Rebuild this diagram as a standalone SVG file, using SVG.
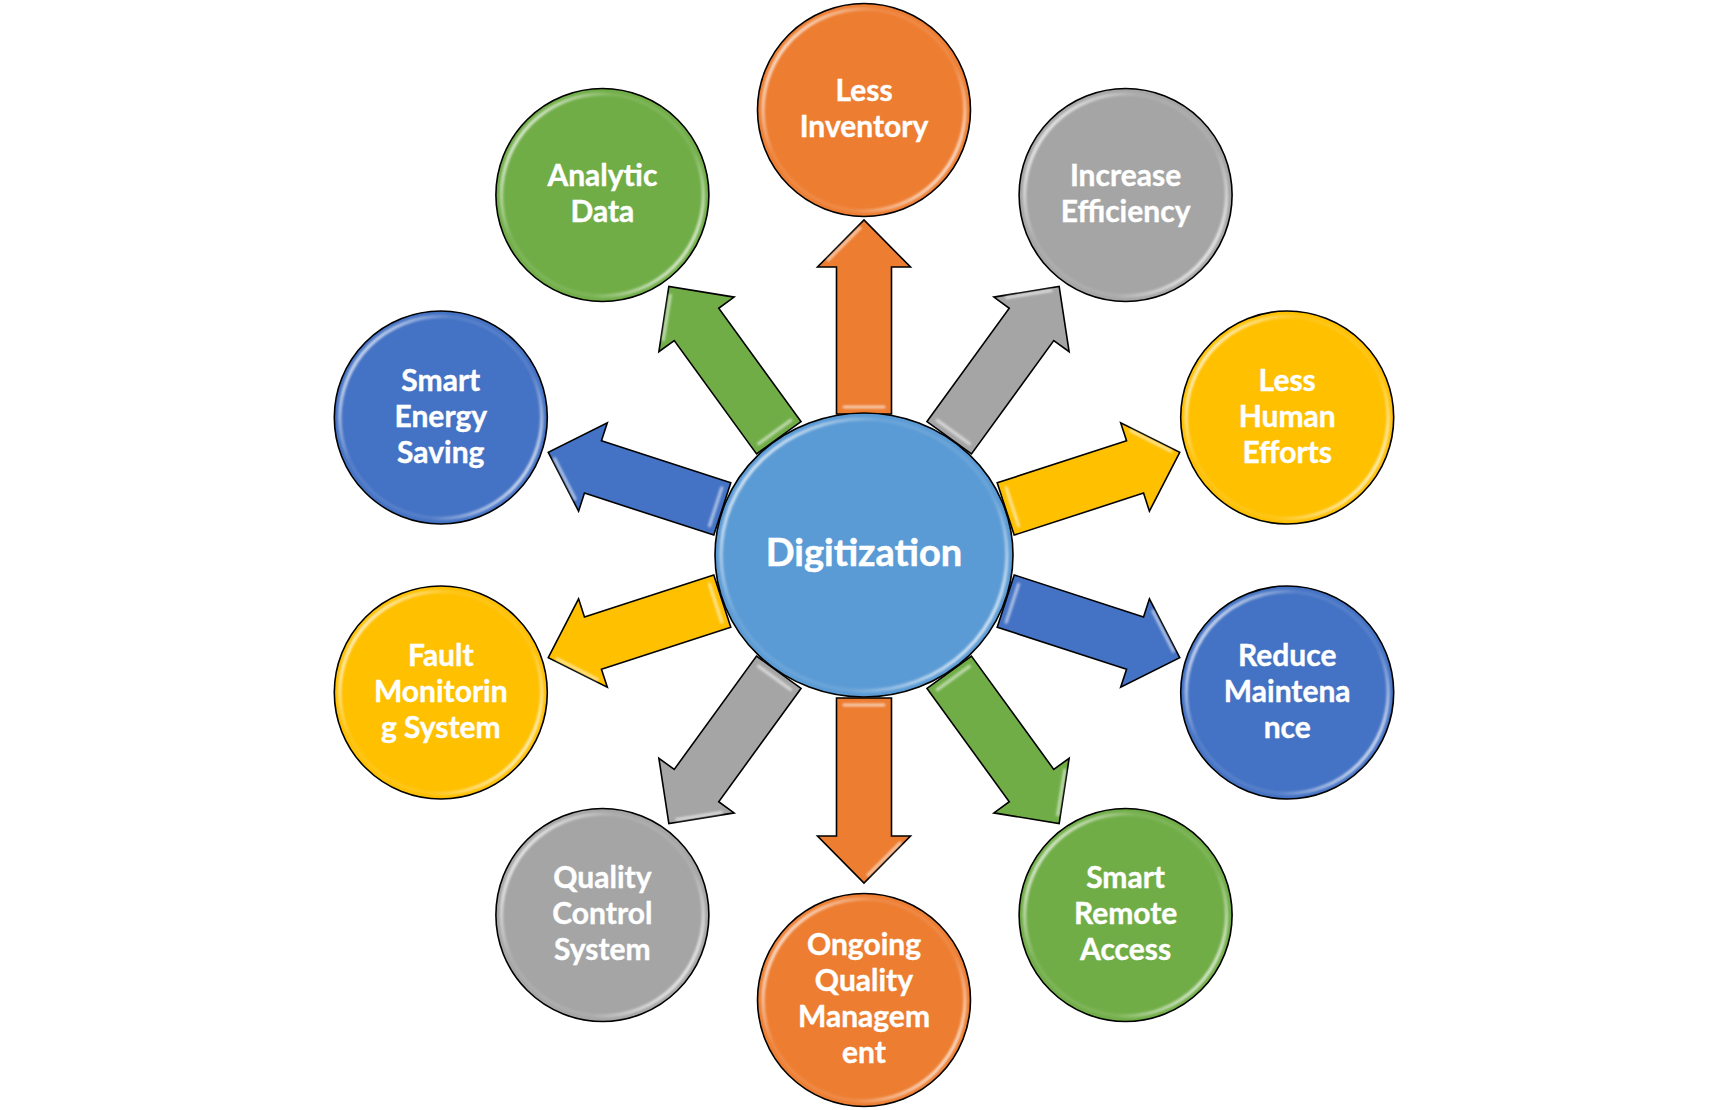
<svg xmlns="http://www.w3.org/2000/svg" width="1728" height="1110" viewBox="0 0 1728 1110">
<defs>
<style>
.node{stroke:#000;stroke-width:1.6}
.hl{fill:none;stroke:url(#hlg);stroke-width:3.5;filter:url(#blur)}
.arr{stroke:#000;stroke-width:1.6;stroke-linejoin:miter}
.ahl{fill:none;stroke:#fff;stroke-opacity:0.6;stroke-width:3;stroke-linecap:round;filter:url(#blur)}
.lbl{font-family:Lato,"Liberation Sans",sans-serif;font-weight:bold;font-size:30px;fill:#fff;stroke:#fff;stroke-width:0.4;text-anchor:middle}
.ctr{font-family:Lato,"Liberation Sans",sans-serif;font-weight:bold;font-size:38px;fill:#fff;stroke:#fff;stroke-width:0.5;text-anchor:middle}
.orange{fill:#ED7D31}.green{fill:#70AD47}.gray{fill:#A5A5A5}.yellow{fill:#FFC000}.blue{fill:#4472C4}.lblue{fill:#5B9BD5}
</style>
<filter id="blur" x="-10%" y="-10%" width="120%" height="120%"><feGaussianBlur stdDeviation="0.9"/></filter>
<linearGradient id="hlg" x1="0" y1="0.15" x2="1" y2="0.85">
<stop offset="0" stop-color="#fff" stop-opacity="0.95"/>
<stop offset="0.3" stop-color="#fff" stop-opacity="0.1"/>
<stop offset="0.7" stop-color="#fff" stop-opacity="0.1"/>
<stop offset="1" stop-color="#fff" stop-opacity="0.95"/>
</linearGradient>
</defs>
<rect width="1728" height="1110" fill="#fff"/>
<g id="connectors">
<g transform="translate(864,555) rotate(-90) translate(141,0)"><polygon class="arr orange" points="0,-27.5 147,-27.5 147,-46.5 194,0 147,46.5 147,27.5 0,27.5"/><path class="ahl" d="M7,-20 L7,20 M154,-36 L186,-4"/></g>
<g transform="translate(864,555) rotate(-54) translate(145,0)"><polygon class="arr gray" points="0,-27.5 140,-27.5 140,-46.5 187,0 140,46.5 140,27.5 0,27.5"/><path class="ahl" d="M7,-20 L7,20 M147,-36 L179,-4"/></g>
<g transform="translate(864,555) rotate(-18) translate(149,0)"><polygon class="arr yellow" points="0,-27.5 136,-27.5 136,-46.5 183,0 136,46.5 136,27.5 0,27.5"/><path class="ahl" d="M7,-20 L7,20 M143,-36 L175,-4"/></g>
<g transform="translate(864,555) rotate(18) translate(149,0)"><polygon class="arr blue" points="0,-27.5 136,-27.5 136,-46.5 183,0 136,46.5 136,27.5 0,27.5"/><path class="ahl" d="M7,-20 L7,20 M143,-36 L175,-4"/></g>
<g transform="translate(864,555) rotate(54) translate(145,0)"><polygon class="arr green" points="0,-27.5 140,-27.5 140,-46.5 187,0 140,46.5 140,27.5 0,27.5"/><path class="ahl" d="M7,-20 L7,20 M147,-36 L179,-4"/></g>
<g transform="translate(864,555) rotate(90) translate(143,0)"><polygon class="arr orange" points="0,-27.5 138,-27.5 138,-46.5 185,0 138,46.5 138,27.5 0,27.5"/><path class="ahl" d="M7,-20 L7,20 M145,-36 L177,-4"/></g>
<g transform="translate(864,555) rotate(126) translate(145,0)"><polygon class="arr gray" points="0,-27.5 140,-27.5 140,-46.5 187,0 140,46.5 140,27.5 0,27.5"/><path class="ahl" d="M7,-20 L7,20 M147,-36 L179,-4"/></g>
<g transform="translate(864,555) rotate(162) translate(149,0)"><polygon class="arr yellow" points="0,-27.5 136,-27.5 136,-46.5 183,0 136,46.5 136,27.5 0,27.5"/><path class="ahl" d="M7,-20 L7,20 M143,-36 L175,-4"/></g>
<g transform="translate(864,555) rotate(198) translate(149,0)"><polygon class="arr blue" points="0,-27.5 136,-27.5 136,-46.5 183,0 136,46.5 136,27.5 0,27.5"/><path class="ahl" d="M7,-20 L7,20 M143,-36 L175,-4"/></g>
<g transform="translate(864,555) rotate(234) translate(145,0)"><polygon class="arr green" points="0,-27.5 140,-27.5 140,-46.5 187,0 140,46.5 140,27.5 0,27.5"/><path class="ahl" d="M7,-20 L7,20 M147,-36 L179,-4"/></g>
</g>
<g id="center">
<ellipse class="node lblue" cx="864" cy="555" rx="149" ry="142"/>
<ellipse class="hl" cx="864" cy="555" rx="143" ry="136"/>
<text class="ctr" x="864" y="566">Digitization</text>
</g>
<g id="less-inventory">
<circle class="node orange" cx="864" cy="110" r="106.5"/>
<circle class="hl" cx="864" cy="110" r="101"/>
<text class="lbl"><tspan x="864" y="101">Less</tspan><tspan x="864" y="137">Inventory</tspan></text>
</g>
<g id="increase-efficiency">
<circle class="node gray" cx="1125.6" cy="195" r="106.5"/>
<circle class="hl" cx="1125.6" cy="195" r="101"/>
<text class="lbl"><tspan x="1125.6" y="186">Increase</tspan><tspan x="1125.6" y="222">Efficiency</tspan></text>
</g>
<g id="less-human-efforts">
<circle class="node yellow" cx="1287.2" cy="417.5" r="106.5"/>
<circle class="hl" cx="1287.2" cy="417.5" r="101"/>
<text class="lbl"><tspan x="1287.2" y="390.5">Less</tspan><tspan x="1287.2" y="426.5">Human</tspan><tspan x="1287.2" y="462.5">Efforts</tspan></text>
</g>
<g id="reduce-maintenance">
<circle class="node blue" cx="1287.2" cy="692.5" r="106.5"/>
<circle class="hl" cx="1287.2" cy="692.5" r="101"/>
<text class="lbl"><tspan x="1287.2" y="665.5">Reduce</tspan><tspan x="1287.2" y="701.5">Maintena</tspan><tspan x="1287.2" y="737.5">nce</tspan></text>
</g>
<g id="smart-remote-access">
<circle class="node green" cx="1125.6" cy="915" r="106.5"/>
<circle class="hl" cx="1125.6" cy="915" r="101"/>
<text class="lbl"><tspan x="1125.6" y="888">Smart</tspan><tspan x="1125.6" y="924">Remote</tspan><tspan x="1125.6" y="960">Access</tspan></text>
</g>
<g id="ongoing-quality-management">
<circle class="node orange" cx="864" cy="1000" r="106.5"/>
<circle class="hl" cx="864" cy="1000" r="101"/>
<text class="lbl"><tspan x="864" y="955">Ongoing</tspan><tspan x="864" y="991">Quality</tspan><tspan x="864" y="1027">Managem</tspan><tspan x="864" y="1063">ent</tspan></text>
</g>
<g id="quality-control-system">
<circle class="node gray" cx="602.4" cy="915" r="106.5"/>
<circle class="hl" cx="602.4" cy="915" r="101"/>
<text class="lbl"><tspan x="602.4" y="888">Quality</tspan><tspan x="602.4" y="924">Control</tspan><tspan x="602.4" y="960">System</tspan></text>
</g>
<g id="fault-monitoring-system">
<circle class="node yellow" cx="440.8" cy="692.5" r="106.5"/>
<circle class="hl" cx="440.8" cy="692.5" r="101"/>
<text class="lbl"><tspan x="440.8" y="665.5">Fault</tspan><tspan x="440.8" y="701.5">Monitorin</tspan><tspan x="440.8" y="737.5">g System</tspan></text>
</g>
<g id="smart-energy-saving">
<circle class="node blue" cx="440.8" cy="417.5" r="106.5"/>
<circle class="hl" cx="440.8" cy="417.5" r="101"/>
<text class="lbl"><tspan x="440.8" y="390.5">Smart</tspan><tspan x="440.8" y="426.5">Energy</tspan><tspan x="440.8" y="462.5">Saving</tspan></text>
</g>
<g id="analytic-data">
<circle class="node green" cx="602.4" cy="195" r="106.5"/>
<circle class="hl" cx="602.4" cy="195" r="101"/>
<text class="lbl"><tspan x="602.4" y="186">Analytic</tspan><tspan x="602.4" y="222">Data</tspan></text>
</g>
</svg>
